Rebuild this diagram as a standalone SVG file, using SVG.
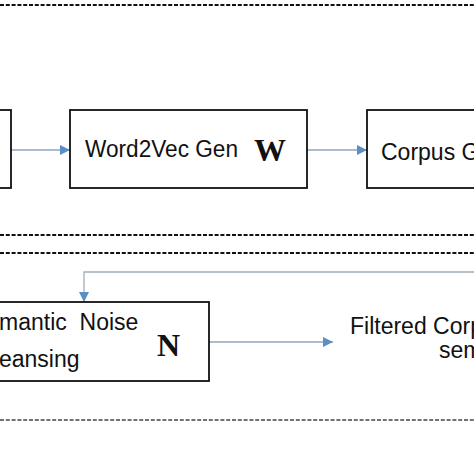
<svg xmlns="http://www.w3.org/2000/svg" width="474" height="474" viewBox="0 0 474 474">
<defs>
<marker id="ah" viewBox="0 0 10 10" refX="10" refY="5" markerWidth="10" markerHeight="10" markerUnits="userSpaceOnUse" orient="auto">
<path d="M0,0 L10,5 L0,10 Z" fill="#5b8ec6"/>
</marker>
<style>
.box{fill:#fff;stroke:#111;stroke-width:1.8}
.dash{stroke:#111;stroke-width:1.9;stroke-dasharray:4 1.8;fill:none}
.lbl{font-family:"Liberation Sans",Arial,sans-serif;font-size:23px;fill:#111}
.sym{font-family:"Liberation Serif","Times New Roman",serif;font-weight:bold;font-size:32px;fill:#111}
.conn{stroke:#8ea6c2;stroke-width:1.3;fill:none}
</style>
</defs>
<rect width="474" height="474" fill="#fff"/>
<g id="separators">
<line class="dash" x1="0" y1="5" x2="474" y2="5"/>
<line class="dash" x1="0" y1="235" x2="474" y2="235"/>
<line class="dash" x1="0" y1="253" x2="474" y2="253"/>
<line class="dash" x1="0" y1="420" x2="474" y2="420" style="stroke:#444;stroke-width:1.6"/>
</g>
<g id="connectors">
<line class="conn" x1="11" y1="150" x2="70" y2="150" marker-end="url(#ah)"/>
<line class="conn" x1="307" y1="150" x2="367" y2="150" marker-end="url(#ah)"/>
<polyline class="conn" points="474,272 84,272 84,302" marker-end="url(#ah)" style="stroke:#a3adb8"/>
<line class="conn" x1="209" y1="342" x2="333" y2="342" marker-end="url(#ah)"/>
</g>
<g id="node-left">
<rect class="box" x="-10" y="110" width="21" height="78"/>
</g>
<g id="node-word2vec">
<rect class="box" x="70" y="110" width="237" height="78"/>
<text class="lbl" x="85" y="157" textLength="153" lengthAdjust="spacingAndGlyphs">Word2Vec Gen</text>
<text class="sym" x="254" y="161">W</text>
</g>
<g id="node-corpus">
<rect class="box" x="367" y="110" width="120" height="78"/>
<text class="lbl" x="381" y="160">Corpus G</text>
</g>
<g id="node-noise">
<rect class="box" x="-10" y="302" width="219" height="79"/>
<text class="lbl" x="-1" y="330" xml:space="preserve">mantic  Noise</text>
<text class="lbl" x="-1" y="367">eansing</text>
<text class="sym" x="157" y="356">N</text>
</g>
<g id="node-filtered">
<text class="lbl" x="350" y="334">Filtered Corp</text>
<text class="lbl" x="439" y="358">sem</text>
</g>
</svg>
